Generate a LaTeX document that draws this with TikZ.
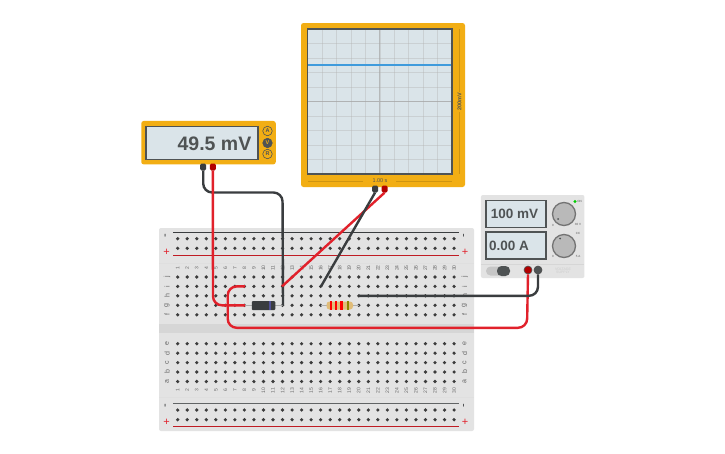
\documentclass[tikz,border=0pt]{standalone}
\usepackage{fontspec}
\usetikzlibrary{calc}
\setmainfont{Liberation Sans}
\definecolor{orangeb}{HTML}{F2AE14}
\definecolor{screen}{HTML}{DAE4E9}
\definecolor{frame}{HTML}{4F5354}
\definecolor{boardc}{HTML}{E3E3E3}
\definecolor{wirered}{HTML}{E1212B}
\definecolor{wireblack}{HTML}{3A3D3F}
\definecolor{holec}{HTML}{3C3C3C}
\definecolor{traceb}{HTML}{3F9BDC}
\definecolor{restan}{HTML}{E0BC78}
\tikzset{
 hole/.style={circle,fill=holec,inner sep=0pt,minimum size=3.6pt},
 wirer/.style={draw=wirered,line width=2.4pt,rounded corners=9pt},
 wirek/.style={draw=wireblack,line width=2.4pt,rounded corners=9pt},
 lbl/.style={font=\fontsize{5}{5}\selectfont,text=gray!80!black,inner sep=0pt,rotate=90},
 scr/.style={fill=screen,draw=frame,line width=1.8pt},
 pin/.style={inner sep=0pt,minimum width=6pt,minimum height=7pt,rounded corners=1.5pt},
 gridl/.style={draw=gray!60,line width=.5pt,opacity=.4},
 knob/.style={circle,fill=gray!55,draw=gray!90!black,line width=1.3pt,inner sep=0pt,minimum size=23pt},
 railmark/.style={font=\fontsize{11}{11}\selectfont,inner sep=0pt},
}
\begin{document}
\begin{tikzpicture}[x=1pt,y=-1pt]
\useasboundingbox (0,0) rectangle (725,453);
\fill[white] (0,0) rectangle (725,453);
% breadboard
\fill[rounded corners=2pt,boardc] (159,228) rectangle (474,431);
\fill[gray!32] (159,324) rectangle (474,333);
\draw[gray!25,line width=.6pt] (159,263) -- (474,263) (159,397) -- (474,397);
\draw[wireblack,line width=.8pt] (173,232) -- (459,232);
\draw[wirered!85!black,line width=.8pt] (173,255) -- (459,255);
\draw[wireblack!80,line width=.8pt] (173,403) -- (459,403);
\draw[wirered!85!black,line width=.8pt] (173,426) -- (459,426);
\foreach \ys in {166.5,465}{
 \node[railmark,text=wireblack,rotate=90] at (\ys,236) {-};
 \node[railmark,text=wirered] at (\ys,252) {+};
 \node[railmark,text=wireblack,rotate=90] at (\ys,406) {-};
 \node[railmark,text=wirered] at (\ys,422.7) {+};
}
\foreach \r/\yy in {j/277,i/286.4,h/295.8,g/305.3,f/314.8,e/343.7,d/353.2,c/362.6,b/372,a/381.5}{
 \node[lbl,font=\fontsize{7}{7}\selectfont] at (167,\yy) {\r};
 \node[lbl,font=\fontsize{7}{7}\selectfont] at (464.5,\yy) {\r};
}
\foreach \i in {1,...,30}{
 \pgfmathsetmacro{\xx}{177.7+(\i-1)*9.53}
 \node[lbl] at (\xx,268) {\i};
 \node[lbl] at (\xx,390.5) {\i};
 \foreach \yy in {238.7,248.3,277,286.4,295.8,305.3,314.8,343.7,353.2,362.6,372,381.5,410,419.7}{
  \node[hole] at (\xx,\yy) {};
 }
}
% multimeter
\node[fill=orangeb,rounded corners=2.5pt,minimum width=134.5pt,minimum height=43.5pt,inner sep=0pt] (meter) at (208.5,142.7) {};
\node[scr,minimum width=112pt,minimum height=33pt,inner sep=0pt] (mscreen) at (202,143) {};
\node[font=\bfseries\fontsize{19.5}{19.5}\selectfont,text=frame,inner sep=0pt,anchor=east] (mval) at (251.5,143.5) {49.5 mV};
\foreach \n/\l/\yy/\fc/\tc in {ma/A/131/orangeb/frame,mv/V/143/frame/orangeb,mr/R/154/orangeb/frame}{
 \node[circle,draw=frame,fill=\fc,line width=.6pt,minimum size=9.5pt,inner sep=0pt,font=\fontsize{5.5}{5.5}\selectfont\bfseries,text=\tc] (\n) at (267.5,\yy) {\l};
}
% oscilloscope
\node[fill=orangeb,rounded corners=2.5pt,minimum width=164pt,minimum height=164pt,inner sep=0pt] (scope) at (383,105) {};
\node[fill=screen,minimum width=144.5pt,minimum height=145pt,inner sep=0pt] (oscreen) at (379.7,101.5) {};
\foreach \k in {1,...,9}{
 \draw[gridl] ($(307.5,29)+(\k*14.45,0)$) -- ++(0,145);
 \draw[gridl] ($(307.5,29)+(0,\k*14.5)$) -- ++(144.5,0);
}
\draw[gray!70,line width=.7pt,opacity=.7] (379.7,29) -- (379.7,174) (307.5,101.5) -- (452,101.5);
\draw[traceb,line width=1.9pt] (308,65.2) -- (451.5,65.2);
\draw[frame,line width=1.8pt] (307.5,29) rectangle (452,174);
\draw[black!15!orangeb,line width=.6pt] (308,181) -- (363,181) (396,181) -- (452,181) (459,29) -- (459,92) (459,112) -- (459,174);
\node[font=\fontsize{5.5}{5.5}\selectfont,text=frame,inner sep=0pt] (tdiv) at (380,181) {1.00 s};
\node[font=\fontsize{5.5}{5.5}\selectfont\bfseries,text=frame,inner sep=0pt,rotate=90] (vdiv) at (459.5,102) {200mV};
% power supply
\node[fill=gray!22,rounded corners=2pt,minimum width=103.5pt,minimum height=83pt,inner sep=0pt] (psu) at (532.7,236.5) {};
\draw[gray!32,line width=.6pt] (481,264) -- (584,264);
\node[scr,minimum width=60pt,minimum height=27pt,inner sep=0pt] (ps1) at (516,214) {};
\node[scr,minimum width=60pt,minimum height=27pt,inner sep=0pt] (ps2) at (516,245.5) {};
\node[font=\bfseries\fontsize{13.5}{13.5}\selectfont,text=frame,inner sep=0pt] at (514.5,214) {100 mV};
\node[font=\bfseries\fontsize{13.5}{13.5}\selectfont,text=frame,inner sep=0pt] at (509,245.5) {0.00 A};
\node[knob] (k1) at (564,214) {};
\node[knob] (k2) at (564,246) {};
\fill[frame] (558,219) circle (1pt) (560,238.5) circle (1pt);
\fill[green!80!black] (575,201.5) circle (1.7pt);
\foreach \p/\s in {(579.5,201.5)/ON,(578,224)/30 V,(553,225)/0,(578,233)/CC,(553,256)/0,(578,256)/5 A}{
 \node[font=\fontsize{3}{3}\selectfont,text=gray!70!black,inner sep=0pt] at \p {\s};
}
\fill[gray!45,rounded corners=4.5pt] (486,266.5) rectangle (510,275.5);
\fill[frame,rounded corners=4.5pt] (497,266) rectangle (510,276);
\node[font=\fontsize{3.5}{3.5}\selectfont,text=gray!40,align=center,inner sep=0pt] at (563,271) {VOLTAGE\\[-.5pt]SUPPLY};
\node[circle,fill=red!70!black,draw=frame,line width=.6pt,minimum size=8pt,inner sep=0pt] (pplus) at (528,270) {};
\node[circle,fill=frame,draw=gray!60!black,line width=.6pt,minimum size=8pt,inner sep=0pt] (pminus) at (538,270) {};
% probes
\node[pin,fill=wireblack] (mblack) at (203.2,167) {};
\node[pin,fill=red!70!black] (mred) at (212.8,167) {};
\node[pin,fill=wireblack] (sblack) at (375,189) {};
\node[pin,fill=red!70!black] (sred) at (384.5,189) {};
% components
\coordinate (dl) at (245,305.3);
\coordinate (dr) at (283,305.3);
\coordinate (rl) at (320.5,305.3);
\coordinate (rr) at (359,305.3);
\coordinate (ri) at (245,286.4);
\coordinate (sbe) at (321,286.4);
\coordinate (sre) at (282,286.4);
\coordinate (pbe) at (359,295.8);
\draw[gray!65,line width=1.5pt] (dl) -- (dr);
\draw[wirek] (mblack.south) -- (203.2,192.5) -- (282.5,192.5) -- (dr);
\draw[wirer] (mred.south) -- (213,305.3) -- (dl);
\draw[wirer] (pplus.south) -- (527,327.8) -- (227.7,327.8) -- (227.7,286.4) -- (ri);
\draw[wirek] (pminus.south) -- (538,295.8) -- (pbe);
\draw[wirer,rounded corners=0pt] (sred.south) -- (sre);
\draw[wirek,rounded corners=0pt] (sblack.south) -- (sbe);
\node[fill=wireblack,rounded corners=1pt,minimum width=23.5pt,minimum height=9pt,inner sep=0pt] (diode) at (263.5,305.5) {};
\fill[gray!70!blue!90!black] (269,301) rectangle (271,310);
\draw[gray!65,line width=1.5pt] (rl) -- (rr);
\fill[restan,rounded corners=3pt] (326.5,301.5) rectangle (353,309.5);
\foreach \xb/\cb in {331/red,336/red,341.5/red,348/olive}{
 \fill[\cb] (\xb-1.2,300.8) rectangle (\xb+1.2,310);
}
\end{tikzpicture}
\end{document}
